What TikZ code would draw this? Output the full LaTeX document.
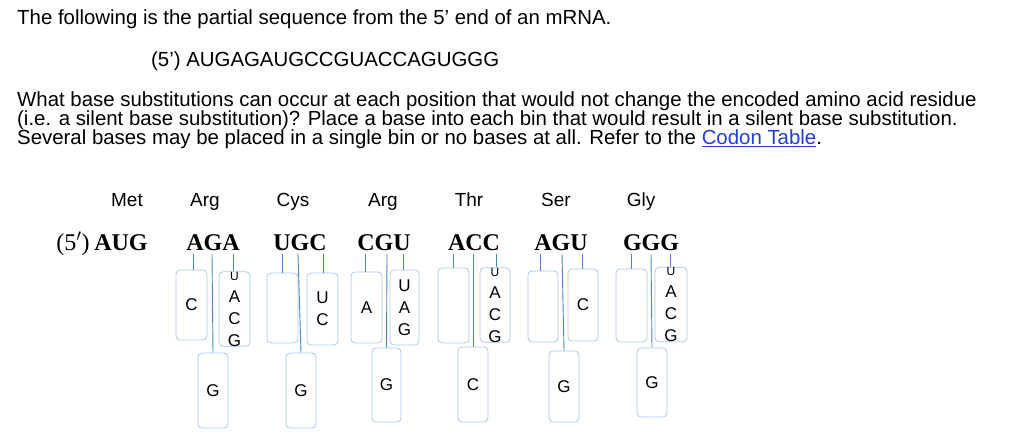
\documentclass[tikz,border=0pt]{standalone}
\usepackage{fontspec}
\setmainfont{Liberation Sans}
\newfontfamily\tms{Liberation Serif}
\definecolor{ln}{HTML}{4A86C8}
\definecolor{bx}{HTML}{A8C8E8}
\definecolor{lk}{HTML}{1F3FD8}
\newcommand{\sq}{\symbol{39}}
\protected\def\fourb{\fontsize{12}{15}\selectfont U\\A\\C\\G}
\protected\def\uc{U\\C}
\protected\def\uag{U\\A\\G}
\begin{document}
\begin{tikzpicture}[x=1pt,y=-1pt,
  txt/.style={anchor=base west,inner sep=0pt,font=\fontsize{20.4}{19}\selectfont},
  aa/.style={anchor=base,inner sep=0pt,font=\fontsize{19}{19}\selectfont},
  cod/.style={anchor=base,inner sep=0pt,font=\tms\bfseries\fontsize{24}{24}\selectfont},
  bin/.style={draw=bx,rounded corners=4pt,line width=0.8pt,inner sep=0pt,align=center,font=\fontsize{17}{22}\selectfont},
  con/.style={draw=ln,line width=0.9pt}]
\useasboundingbox (0,0) rectangle (1024,446);
\node[txt] (t1) at (17,25) {The following is the partial sequence from the 5\sq{} end of an mRNA.};
\node[txt] (t2) at (151,67) {(5\sq) AUGAGAUGCCGUACCAGUGGG};
\node[txt] (t3) at (17,107) {What base substitutions can occur at each position that would not change the encoded amino acid residue};
\node[txt] (t4) at (17,126) {(i.e. a silent base substitution)? Place a base into each bin that would result in a silent base substitution.};
\node[txt] (t5) at (17,145) {Several bases may be placed in a single bin or no bases at all. Refer to the \textcolor{lk}{\underline{Codon Table}}.};
\foreach \n/\x/\t in {a1/127/Met,a2/205/Arg,a3/293/Cys,a4/383/Arg,a5/469/Thr,a6/556/Ser,a7/641/Gly}
  \node[aa] (\n) at (\x,207) {\t};
\node[anchor=base,inner sep=0pt,font=\tms\fontsize{24}{24}\selectfont] (p5) at (73,251) {(5$'$)};
\node[cod] (c0) at (121,250) {AUG};
\node[cod] (c1) at (213,250) {AGA};
\node[cod] (c2) at (300,250) {UGC};
\node[cod] (c3) at (384,250) {CGU};
\node[cod] (c4) at (474,250) {ACC};
\node[cod] (c5) at (561,250) {AGU};
\node[cod] (c6) at (651,250) {GGG};
\foreach \n/\xa/\ya/\xb/\yb/\t in {
 b11/176/270/207/340/C, b12/198/353/228/428/G, b13/219/273/250/345/\fourb,
 b21/267/273/298/343/{}, b22/286/353/316/428/G, b23/307/273/338/345/\uc,
 b31/351/272/382/343/A, b32/372/348/401/422/G, b33/390/270/419/345/\uag,
 b41/438/268/469/343/{}, b42/458/347/488/422/C, b43/480/268/510/342/\fourb,
 b51/528/271/558/342/{}, b52/549/351/579/422/G, b53/568/269/598/341/C,
 b61/616/269/647/342/{}, b62/637/348/667/417/G, b63/655/268/687/341/\fourb}
  \node[bin,minimum width={\xb-\xa},minimum height={\yb-\ya}] (\n) at ({(\xa+\xb)/2},{(\ya+\yb)/2}) {\t};
\foreach \c/\xa/\xb/\xc in {1/193/212/233,2/282/298/323,3/365/387/403,4/453/473/496,5/540/562/582,6/631/651/670}{
  \coordinate (l\c1) at (\xa,254);
  \coordinate (l\c2) at (\xb,254);
  \coordinate (l\c3) at (\xc,254);
}
\foreach \c in {1,...,6}{
  \draw[con] (l\c1) -- (l\c1 |- b\c1.north);
  \draw[con] (l\c2) -- (b\c2.north);
  \draw[con] (l\c3) -- (l\c3 |- b\c3.north);
}
\end{tikzpicture}
\end{document}
